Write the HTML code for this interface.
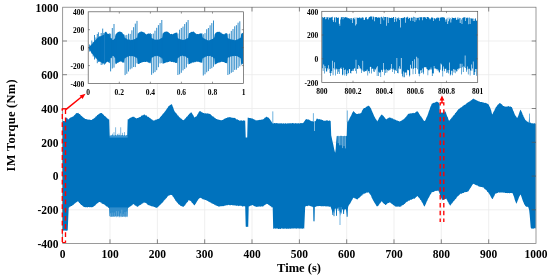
<!DOCTYPE html>
<html><head><meta charset="utf-8"><title>IM Torque</title>
<style>html,body{margin:0;padding:0;background:#fff}svg{display:block}</style></head>
<body>
<svg width="550" height="278" viewBox="0 0 550 278">
<rect width="550" height="278" fill="#fff"/>
<path d="M110.0 7.2V243.6M157.4 7.2V243.6M204.7 7.2V243.6M252.0 7.2V243.6M299.4 7.2V243.6M346.7 7.2V243.6M394.0 7.2V243.6M441.3 7.2V243.6M488.7 7.2V243.6M62.7 209.8H536.0M62.7 176.1H536.0M62.7 142.3H536.0M62.7 108.5H536.0M62.7 74.7H536.0M62.7 41.0H536.0" stroke="#ebebeb" stroke-width="0.8" fill="none"/>
<polygon points="62.7,121.0 63.2,121.1 63.7,120.9 64.2,121.0 64.7,121.3 65.2,121.3 65.7,120.7 66.2,117.8 66.7,117.7 67.2,118.0 67.7,119.3 68.2,119.5 68.7,119.2 69.2,118.4 69.7,118.2 70.2,117.9 70.7,117.3 71.2,117.5 71.7,117.0 72.2,116.9 72.7,116.6 73.2,116.6 73.7,115.9 74.2,115.2 74.7,115.0 75.2,114.6 75.7,113.8 76.2,113.3 76.7,113.1 77.2,113.2 77.7,112.9 78.2,112.7 78.7,113.4 79.2,113.9 79.7,114.1 80.2,114.4 80.7,115.3 81.2,115.7 81.7,116.1 82.2,116.5 82.7,117.1 83.2,117.6 83.7,117.8 84.2,118.1 84.7,118.6 85.2,119.1 85.7,119.1 86.2,119.0 86.7,119.2 87.2,119.5 87.7,119.5 88.2,119.6 88.7,119.8 89.2,119.5 89.7,119.8 90.2,119.8 90.7,120.0 91.2,120.1 91.7,119.9 92.2,119.5 92.7,119.0 93.2,118.9 93.7,118.4 94.2,118.2 94.7,117.8 95.2,117.4 95.7,116.6 96.2,116.2 96.7,116.2 97.2,115.1 97.7,115.0 98.2,114.6 98.7,114.3 99.2,113.8 99.7,113.6 100.2,113.2 100.7,113.1 101.2,113.0 101.7,113.1 102.2,113.5 102.7,113.9 103.2,114.6 103.7,114.8 104.2,115.7 104.7,116.0 105.2,116.3 105.7,116.8 106.2,117.0 106.7,117.9 107.2,118.3 107.7,118.7 108.2,118.8 108.7,119.4 109.2,119.6 109.7,135.7 110.2,135.9 110.7,135.7 111.2,135.5 111.7,135.6 112.2,135.4 112.7,135.4 113.2,135.8 113.7,135.8 114.2,135.9 114.7,135.8 115.2,135.6 115.7,135.3 116.2,135.6 116.7,135.9 117.2,135.8 117.7,135.6 118.2,135.6 118.7,135.4 119.2,135.4 119.7,135.3 120.2,135.9 120.7,135.7 121.2,135.4 121.7,135.5 122.2,135.3 122.7,135.4 123.2,135.8 123.7,135.7 124.2,135.6 124.7,135.4 125.2,135.7 125.7,135.9 126.2,135.6 126.7,135.3 127.2,135.3 127.7,119.2 128.2,119.5 128.7,118.9 129.2,118.8 129.7,118.0 130.2,117.7 130.7,117.8 131.2,117.8 131.7,117.1 132.2,116.7 132.7,117.1 133.2,116.5 133.7,117.0 134.2,116.8 134.7,117.4 135.2,117.8 135.7,118.0 136.2,118.1 136.7,118.7 137.2,118.1 137.7,118.0 138.2,117.8 138.7,117.8 139.2,117.0 139.7,117.2 140.2,116.9 140.7,116.7 141.2,116.0 141.7,115.6 142.2,115.3 142.7,115.4 143.2,115.3 143.7,114.8 144.2,114.4 144.7,114.6 145.2,115.2 145.7,115.5 146.2,115.3 146.7,115.6 147.2,116.4 147.7,116.7 148.2,116.7 148.7,117.0 149.2,117.4 149.7,117.9 150.2,117.9 150.7,118.8 151.2,118.9 151.7,119.4 152.2,119.4 152.7,120.2 153.2,120.4 153.7,120.4 154.2,120.6 154.7,120.3 155.2,120.3 155.7,119.6 156.2,119.4 156.7,119.7 157.2,119.2 157.7,119.1 158.2,118.7 158.7,119.1 159.2,118.4 159.7,118.0 160.2,116.9 160.7,116.7 161.2,115.8 161.7,115.8 162.2,114.9 162.7,114.1 163.2,113.5 163.7,113.3 164.2,112.4 164.7,111.8 165.2,111.2 165.7,110.5 166.2,109.8 166.7,109.1 167.2,108.2 167.7,107.7 168.2,106.7 168.7,106.1 169.2,106.0 169.7,105.3 170.2,105.0 170.7,104.7 171.2,104.6 171.7,104.0 172.2,104.9 172.7,106.4 173.2,107.5 173.7,109.2 174.2,110.6 174.7,111.5 175.2,112.3 175.7,112.7 176.2,113.1 176.7,114.1 177.2,114.6 177.7,115.4 178.2,115.6 178.7,116.3 179.2,117.2 179.7,117.3 180.2,117.8 180.7,118.6 181.2,118.6 181.7,118.9 182.2,119.6 182.7,119.9 183.2,120.3 183.7,120.1 184.2,119.8 184.7,118.9 185.2,118.5 185.7,118.3 186.2,117.2 186.7,116.8 187.2,116.6 187.7,116.0 188.2,115.0 188.7,114.7 189.2,114.1 189.7,113.5 190.2,113.3 190.7,112.6 191.2,112.7 191.7,112.3 192.2,113.7 192.7,114.4 193.2,115.1 193.7,116.3 194.2,117.1 194.7,117.7 195.2,116.8 195.7,116.7 196.2,116.4 196.7,115.9 197.2,114.9 197.7,114.0 198.2,113.5 198.7,112.2 199.2,111.4 199.7,111.3 200.2,110.9 200.7,111.5 201.2,111.7 201.7,112.2 202.2,112.4 202.7,112.5 203.2,113.1 203.7,113.1 204.2,113.3 204.7,113.5 205.2,113.1 205.7,113.6 206.2,113.6 206.7,113.4 207.2,113.5 207.7,113.3 208.2,113.8 208.7,113.5 209.2,113.9 209.7,113.7 210.2,113.9 210.7,114.6 211.2,115.0 211.7,115.5 212.2,116.0 212.7,116.5 213.2,116.3 213.7,117.0 214.2,117.4 214.7,117.8 215.2,118.1 215.7,118.4 216.2,118.9 216.7,118.9 217.2,119.2 217.7,119.6 218.2,119.4 218.7,119.8 219.2,119.7 219.7,119.9 220.2,119.9 220.7,120.2 221.2,120.2 221.7,120.2 222.2,119.9 222.7,119.9 223.2,119.4 223.7,119.4 224.2,118.8 224.7,118.8 225.2,118.5 225.7,118.3 226.2,117.9 226.7,118.1 227.2,117.8 227.7,117.2 228.2,117.2 228.7,117.6 229.2,117.0 229.7,117.2 230.2,117.6 230.7,117.1 231.2,117.7 231.7,117.6 232.2,117.8 232.7,117.8 233.2,118.1 233.7,117.8 234.2,118.1 234.7,117.8 235.2,118.3 235.7,118.4 236.2,119.2 236.7,119.5 237.2,119.3 237.7,119.6 238.2,119.9 238.7,120.1 239.2,120.7 239.7,120.5 240.2,120.5 240.7,120.5 241.2,120.2 241.7,120.4 242.2,120.8 242.7,120.7 243.2,120.6 243.7,120.3 244.2,120.8 244.7,120.4 245.2,120.6 245.7,137.4 246.2,137.5 246.7,137.5 247.2,137.5 247.7,117.4 248.2,117.9 248.7,117.6 249.2,118.0 249.7,118.0 250.2,118.2 250.7,118.0 251.2,118.2 251.7,118.6 252.2,118.5 252.7,118.5 253.2,119.3 253.7,118.9 254.2,119.7 254.7,119.6 255.2,119.8 255.7,120.5 256.2,120.2 256.7,120.4 257.2,120.1 257.7,120.5 258.2,120.3 258.7,120.1 259.2,119.8 259.7,119.9 260.2,120.0 260.7,119.7 261.2,119.8 261.7,119.5 262.2,119.6 262.7,119.5 263.2,119.3 263.7,118.9 264.2,118.5 264.7,117.8 265.2,117.4 265.7,117.4 266.2,116.8 266.7,116.7 267.2,117.1 267.7,117.5 268.2,117.6 268.7,117.8 269.2,118.4 269.7,119.0 270.2,119.7 270.7,120.4 271.2,121.3 271.7,121.9 272.2,122.9 272.7,123.0 273.2,123.3 273.7,123.5 274.2,123.0 274.7,122.9 275.2,123.4 275.7,123.1 276.2,123.2 276.7,122.9 277.2,123.0 277.7,123.4 278.2,123.3 278.7,123.5 279.2,123.6 279.7,123.2 280.2,123.4 280.7,123.3 281.2,123.3 281.7,123.2 282.2,123.7 282.7,123.4 283.2,123.1 283.7,123.5 284.2,123.7 284.7,123.6 285.2,123.4 285.7,123.0 286.2,123.6 286.7,123.7 287.2,123.6 287.7,123.3 288.2,123.3 288.7,123.6 289.2,123.1 289.7,123.6 290.2,123.4 290.7,123.1 291.2,123.6 291.7,123.3 292.2,123.1 292.7,123.1 293.2,123.6 293.7,123.1 294.2,123.5 294.7,123.5 295.2,123.0 295.7,123.3 296.2,123.5 296.7,123.3 297.2,123.5 297.7,123.2 298.2,123.4 298.7,123.1 299.2,123.5 299.7,123.5 300.2,123.3 300.7,123.1 301.2,123.1 301.7,123.3 302.2,123.0 302.7,123.2 303.2,123.1 303.7,122.2 304.2,121.4 304.7,121.0 305.2,120.1 305.7,119.6 306.2,119.2 306.7,119.1 307.2,119.4 307.7,119.6 308.2,119.6 308.7,119.4 309.2,119.7 309.7,120.3 310.2,120.4 310.7,120.8 311.2,121.2 311.7,120.9 312.2,121.5 312.7,121.1 313.2,121.4 313.7,121.6 314.2,121.2 314.7,121.0 315.2,121.2 315.7,120.9 316.2,119.8 316.7,118.5 317.2,119.0 317.7,118.5 318.2,119.1 318.7,119.4 319.2,119.0 319.7,119.3 320.2,119.6 320.7,119.4 321.2,119.6 321.7,119.7 322.2,119.9 322.7,120.1 323.2,120.4 323.7,120.7 324.2,120.7 324.7,120.7 325.2,120.7 325.7,120.8 326.2,120.3 326.7,120.6 327.2,120.3 327.7,120.6 328.2,120.9 328.7,120.7 329.2,120.5 329.7,120.6 330.2,120.8 330.7,121.2 331.2,135.3 331.7,137.5 332.2,140.0 332.7,142.2 333.2,144.2 333.7,146.7 334.2,149.2 334.7,151.2 335.2,152.8 335.7,149.0 336.2,141.6 336.7,136.3 337.2,135.8 337.7,136.3 338.2,135.7 338.7,136.3 339.2,135.9 339.7,136.2 340.2,135.7 340.7,136.0 341.2,135.8 341.7,136.1 342.2,136.1 342.7,136.0 343.2,136.1 343.7,136.3 344.2,135.7 344.7,136.0 345.2,136.1 345.7,136.1 346.2,135.8 346.7,136.3 347.2,121.2 347.7,121.6 348.2,121.4 348.7,120.1 349.2,119.5 349.7,117.9 350.2,117.3 350.7,116.2 351.2,115.4 351.7,114.3 352.2,113.1 352.7,112.2 353.2,111.6 353.7,111.0 354.2,112.1 354.7,112.3 355.2,112.9 355.7,113.3 356.2,113.8 356.7,114.1 357.2,113.9 357.7,113.9 358.2,113.6 358.7,113.7 359.2,113.5 359.7,113.8 360.2,113.1 360.7,113.4 361.2,112.9 361.7,111.7 362.2,110.4 362.7,109.7 363.2,108.9 363.7,108.2 364.2,107.9 364.7,108.1 365.2,107.7 365.7,107.4 366.2,107.0 366.7,106.5 367.2,106.6 367.7,106.0 368.2,105.5 368.7,106.1 369.2,106.0 369.7,106.7 370.2,107.4 370.7,107.9 371.2,109.1 371.7,110.5 372.2,111.6 372.7,112.8 373.2,113.8 373.7,115.1 374.2,116.2 374.7,117.0 375.2,118.1 375.7,119.0 376.2,119.5 376.7,120.2 377.2,121.4 377.7,120.6 378.2,119.9 378.7,118.7 379.2,117.8 379.7,117.1 380.2,116.6 380.7,115.4 381.2,115.1 381.7,114.4 382.2,114.7 382.7,115.4 383.2,115.7 383.7,116.3 384.2,117.1 384.7,117.5 385.2,118.2 385.7,119.0 386.2,119.1 386.7,119.5 387.2,118.8 387.7,118.2 388.2,118.2 388.7,117.8 389.2,117.5 389.7,117.4 390.2,117.7 390.7,117.8 391.2,117.8 391.7,118.5 392.2,118.3 392.7,118.6 393.2,118.8 393.7,119.5 394.2,119.0 394.7,119.7 395.2,119.8 395.7,119.7 396.2,120.3 396.7,120.6 397.2,120.7 397.7,120.4 398.2,121.1 398.7,120.9 399.2,121.4 399.7,121.4 400.2,121.0 400.7,121.2 401.2,120.8 401.7,120.4 402.2,120.3 402.7,119.8 403.2,119.2 403.7,119.4 404.2,118.7 404.7,118.2 405.2,117.4 405.7,117.2 406.2,116.7 406.7,115.7 407.2,115.4 407.7,114.5 408.2,113.9 408.7,113.7 409.2,113.6 409.7,113.7 410.2,113.4 410.7,113.2 411.2,113.5 411.7,113.2 412.2,113.2 412.7,113.0 413.2,112.8 413.7,113.2 414.2,113.0 414.7,113.2 415.2,112.3 415.7,112.5 416.2,111.7 416.7,111.5 417.2,111.1 417.7,111.8 418.2,112.3 418.7,112.8 419.2,113.9 419.7,114.4 420.2,115.4 420.7,116.2 421.2,116.6 421.7,117.6 422.2,118.0 422.7,118.9 423.2,119.8 423.7,120.6 424.2,121.0 424.7,121.1 425.2,120.5 425.7,119.4 426.2,118.3 426.7,116.9 427.2,116.2 427.7,114.8 428.2,113.4 428.7,111.8 429.2,110.6 429.7,109.3 430.2,107.6 430.7,106.2 431.2,105.4 431.7,103.8 432.2,103.7 432.7,103.3 433.2,102.8 433.7,103.0 434.2,102.7 434.7,102.8 435.2,102.5 435.7,102.0 436.2,102.1 436.7,101.6 437.2,101.7 437.7,102.0 438.2,102.4 438.7,102.5 439.2,103.5 439.7,104.1 440.2,104.9 440.7,105.1 441.2,106.2 441.7,106.9 442.2,107.3 442.7,107.6 443.2,108.9 443.7,109.3 444.2,109.8 444.7,110.8 445.2,111.6 445.7,112.0 446.2,113.6 446.7,115.0 447.2,116.4 447.7,117.1 448.2,118.8 448.7,120.3 449.2,120.8 449.7,120.3 450.2,119.6 450.7,119.0 451.2,118.4 451.7,117.5 452.2,117.4 452.7,116.6 453.2,115.6 453.7,115.6 454.2,114.9 454.7,114.2 455.2,113.1 455.7,112.9 456.2,112.0 456.7,111.8 457.2,110.8 457.7,110.3 458.2,109.6 458.7,109.0 459.2,108.7 459.7,108.6 460.2,108.0 460.7,107.5 461.2,107.5 461.7,107.0 462.2,106.8 462.7,105.9 463.2,105.5 463.7,105.7 464.2,104.8 464.7,104.9 465.2,104.7 465.7,104.2 466.2,103.8 466.7,103.3 467.2,102.9 467.7,102.4 468.2,102.2 468.7,101.9 469.2,101.4 469.7,101.5 470.2,101.2 470.7,100.4 471.2,100.2 471.7,100.1 472.2,99.5 472.7,99.0 473.2,99.0 473.7,98.6 474.2,99.0 474.7,99.4 475.2,99.4 475.7,99.9 476.2,99.9 476.7,100.4 477.2,100.4 477.7,101.0 478.2,100.9 478.7,101.6 479.2,101.2 479.7,101.7 480.2,101.9 480.7,102.1 481.2,102.0 481.7,102.1 482.2,102.1 482.7,102.6 483.2,102.6 483.7,102.6 484.2,102.7 484.7,103.1 485.2,103.0 485.7,102.8 486.2,102.9 486.7,103.5 487.2,103.6 487.7,104.0 488.2,104.2 488.7,104.5 489.2,106.0 489.7,106.7 490.2,107.8 490.7,109.3 491.2,110.5 491.7,112.7 492.2,114.4 492.7,113.7 493.2,112.6 493.7,111.6 494.2,110.9 494.7,109.5 495.2,108.7 495.7,107.4 496.2,106.8 496.7,106.4 497.2,105.5 497.7,104.7 498.2,104.4 498.7,104.1 499.2,103.6 499.7,103.0 500.2,103.0 500.7,103.8 501.2,103.9 501.7,104.3 502.2,104.8 502.7,105.6 503.2,106.0 503.7,106.0 504.2,106.2 504.7,106.5 505.2,106.8 505.7,106.5 506.2,106.7 506.7,106.6 507.2,106.5 507.7,106.5 508.2,106.2 508.7,106.1 509.2,106.6 509.7,106.8 510.2,106.6 510.7,106.4 511.2,106.9 511.7,107.0 512.2,108.1 512.7,109.3 513.2,110.8 513.7,111.5 514.2,112.9 514.7,114.3 515.2,115.2 515.7,115.9 516.2,116.6 516.7,117.4 517.2,118.0 517.7,116.9 518.2,116.0 518.7,114.4 519.2,112.9 519.7,111.6 520.2,110.2 520.7,109.8 521.2,111.1 521.7,111.9 522.2,113.1 522.7,114.7 523.2,115.3 523.7,117.0 524.2,117.6 524.7,118.8 525.2,119.7 525.7,120.3 526.2,120.4 526.7,121.3 527.2,121.6 527.7,121.8 528.2,122.2 528.7,122.6 529.2,116.6 529.7,119.7 530.2,122.7 530.7,122.7 531.2,123.1 531.7,123.5 532.2,122.9 532.7,123.4 533.2,123.4 533.7,123.5 534.2,123.3 534.7,123.3 535.2,123.4 535.7,123.8 535.7,228.5 535.2,228.2 534.7,228.1 534.2,228.4 533.7,228.7 533.2,228.6 532.7,228.5 532.2,228.7 531.7,228.7 531.2,228.2 530.7,227.4 530.2,221.2 529.7,215.1 529.2,210.4 528.7,208.6 528.2,207.1 527.7,207.0 527.2,206.6 526.7,206.9 526.2,206.5 525.7,206.3 525.2,205.8 524.7,204.8 524.2,204.2 523.7,202.8 523.2,201.8 522.7,200.5 522.2,198.9 521.7,197.4 521.2,196.1 520.7,194.7 520.2,194.7 519.7,195.9 519.2,196.8 518.7,198.0 518.2,199.5 517.7,200.6 517.2,201.9 516.7,203.0 516.2,203.7 515.7,201.9 515.2,200.9 514.7,199.4 514.2,197.5 513.7,196.1 513.2,194.9 512.7,193.0 512.2,193.4 511.7,192.9 511.2,193.1 510.7,193.0 510.2,193.0 509.7,193.3 509.2,193.2 508.7,192.9 508.2,193.1 507.7,193.2 507.2,193.0 506.7,193.0 506.2,193.1 505.7,193.1 505.2,192.9 504.7,192.4 504.2,192.7 503.7,192.8 503.2,192.4 502.7,192.5 502.2,192.4 501.7,192.5 501.2,192.6 500.7,192.4 500.2,192.4 499.7,192.4 499.2,192.8 498.7,192.3 498.2,192.5 497.7,192.9 497.2,193.0 496.7,193.2 496.2,193.4 495.7,193.5 495.2,193.7 494.7,195.1 494.2,196.2 493.7,196.8 493.2,198.0 492.7,198.9 492.2,198.9 491.7,198.2 491.2,197.5 490.7,196.5 490.2,195.5 489.7,194.8 489.2,193.7 488.7,193.2 488.2,192.3 487.7,192.0 487.2,191.7 486.7,190.6 486.2,190.1 485.7,189.5 485.2,189.4 484.7,189.1 484.2,188.5 483.7,187.6 483.2,187.5 482.7,187.2 482.2,187.3 481.7,187.0 481.2,186.9 480.7,186.7 480.2,187.1 479.7,186.4 479.2,186.8 478.7,186.6 478.2,186.1 477.7,185.5 477.2,185.5 476.7,185.4 476.2,184.9 475.7,185.0 475.2,184.7 474.7,184.4 474.2,184.0 473.7,183.9 473.2,183.8 472.7,184.5 472.2,185.1 471.7,186.0 471.2,186.8 470.7,187.8 470.2,188.2 469.7,188.9 469.2,190.0 468.7,190.7 468.2,191.5 467.7,191.5 467.2,191.7 466.7,192.1 466.2,192.1 465.7,192.0 465.2,192.2 464.7,192.1 464.2,192.6 463.7,192.9 463.2,193.1 462.7,192.9 462.2,193.2 461.7,193.7 461.2,193.7 460.7,193.5 460.2,194.1 459.7,194.5 459.2,195.0 458.7,195.5 458.2,196.1 457.7,196.4 457.2,196.6 456.7,197.5 456.2,198.5 455.7,199.0 455.2,199.3 454.7,199.9 454.2,200.8 453.7,201.3 453.2,201.6 452.7,202.6 452.2,203.3 451.7,203.4 451.2,204.2 450.7,205.0 450.2,205.8 449.7,205.1 449.2,204.1 448.7,203.5 448.2,202.1 447.7,201.7 447.2,200.2 446.7,199.5 446.2,198.6 445.7,199.1 445.2,199.0 444.7,199.3 444.2,199.4 443.7,199.8 443.2,200.1 442.7,200.2 442.2,199.6 441.7,198.9 441.2,197.7 440.7,196.5 440.2,195.3 439.7,194.0 439.2,192.4 438.7,191.2 438.2,190.5 437.7,190.5 437.2,190.9 436.7,190.7 436.2,191.1 435.7,190.9 435.2,190.8 434.7,191.5 434.2,191.3 433.7,191.9 433.2,191.9 432.7,192.1 432.2,192.2 431.7,192.3 431.2,193.5 430.7,194.2 430.2,194.7 429.7,195.7 429.2,197.0 428.7,197.7 428.2,198.5 427.7,199.4 427.2,201.0 426.7,201.5 426.2,202.9 425.7,204.2 425.2,205.1 424.7,206.5 424.2,206.3 423.7,205.5 423.2,204.5 422.7,203.3 422.2,202.5 421.7,202.1 421.2,200.6 420.7,200.1 420.2,199.7 419.7,198.6 419.2,198.1 418.7,197.4 418.2,197.1 417.7,196.3 417.2,195.9 416.7,196.7 416.2,197.1 415.7,197.7 415.2,197.7 414.7,198.7 414.2,198.8 413.7,198.6 413.2,198.8 412.7,199.2 412.2,199.1 411.7,199.4 411.2,200.0 410.7,199.7 410.2,199.8 409.7,200.5 409.2,200.8 408.7,200.4 408.2,201.1 407.7,201.2 407.2,201.9 406.7,201.8 406.2,202.2 405.7,202.7 405.2,203.3 404.7,203.9 404.2,204.1 403.7,204.7 403.2,205.0 402.7,205.2 402.2,205.3 401.7,205.6 401.2,206.4 400.7,206.3 400.2,206.9 399.7,206.4 399.2,207.0 398.7,206.4 398.2,206.6 397.7,206.6 397.2,206.7 396.7,206.4 396.2,206.8 395.7,206.6 395.2,206.6 394.7,205.9 394.2,205.6 393.7,205.3 393.2,204.9 392.7,204.5 392.2,203.9 391.7,203.8 391.2,203.5 390.7,202.9 390.2,202.5 389.7,202.4 389.2,202.4 388.7,202.9 388.2,203.1 387.7,203.2 387.2,203.6 386.7,204.2 386.2,204.5 385.7,205.1 385.2,204.9 384.7,204.1 384.2,203.9 383.7,203.4 383.2,202.9 382.7,202.4 382.2,201.7 381.7,201.2 381.2,201.8 380.7,202.5 380.2,203.3 379.7,203.6 379.2,204.5 378.7,204.9 378.2,206.0 377.7,206.1 377.2,206.6 376.7,206.3 376.2,205.4 375.7,204.4 375.2,203.7 374.7,202.9 374.2,202.2 373.7,201.3 373.2,200.5 372.7,199.6 372.2,198.4 371.7,197.8 371.2,196.1 370.7,195.1 370.2,194.5 369.7,193.9 369.2,193.1 368.7,192.4 368.2,192.3 367.7,192.7 367.2,192.5 366.7,192.6 366.2,192.8 365.7,193.0 365.2,193.5 364.7,193.4 364.2,193.8 363.7,193.5 363.2,194.5 362.7,194.3 362.2,195.4 361.7,195.4 361.2,195.8 360.7,196.6 360.2,196.8 359.7,197.5 359.2,197.8 358.7,198.1 358.2,198.6 357.7,199.3 357.2,199.5 356.7,199.1 356.2,199.3 355.7,198.8 355.2,198.3 354.7,198.5 354.2,197.7 353.7,197.7 353.2,198.0 352.7,198.7 352.2,199.9 351.7,200.4 351.2,201.5 350.7,202.4 350.2,203.5 349.7,203.9 349.2,204.7 348.7,205.5 348.2,206.8 347.7,209.5 347.2,217.1 346.7,213.2 346.2,210.4 345.7,209.2 345.2,209.3 344.7,209.3 344.2,210.6 343.7,213.5 343.2,211.8 342.7,209.6 342.2,208.9 341.7,211.5 341.2,212.6 340.7,212.3 340.2,216.0 339.7,212.0 339.2,210.2 338.7,209.0 338.2,207.9 337.7,208.7 337.2,208.5 336.7,213.7 336.2,213.5 335.7,208.7 335.2,208.6 334.7,209.0 334.2,213.4 333.7,212.2 333.2,210.5 332.7,214.2 332.2,211.4 331.7,209.7 331.2,208.5 330.7,207.1 330.2,206.6 329.7,207.0 329.2,206.4 328.7,206.6 328.2,206.4 327.7,206.3 327.2,206.5 326.7,206.5 326.2,206.3 325.7,206.2 325.2,206.6 324.7,206.0 324.2,206.2 323.7,206.5 323.2,206.1 322.7,206.1 322.2,206.4 321.7,206.4 321.2,205.9 320.7,206.1 320.2,206.3 319.7,206.1 319.2,206.0 318.7,206.1 318.2,206.2 317.7,206.2 317.2,205.9 316.7,206.6 316.2,206.2 315.7,206.9 315.2,206.8 314.7,207.0 314.2,220.7 313.7,221.0 313.2,206.9 312.7,207.2 312.2,206.5 311.7,206.6 311.2,206.5 310.7,206.1 310.2,206.3 309.7,206.0 309.2,205.5 308.7,205.8 308.2,205.6 307.7,206.0 307.2,206.2 306.7,206.0 306.2,206.1 305.7,206.4 305.2,206.6 304.7,217.7 304.2,228.7 303.7,228.5 303.2,228.3 302.7,228.6 302.2,228.9 301.7,228.4 301.2,228.6 300.7,228.8 300.2,228.3 299.7,228.9 299.2,228.3 298.7,228.4 298.2,228.5 297.7,228.3 297.2,228.5 296.7,228.9 296.2,228.3 295.7,228.3 295.2,228.8 294.7,228.3 294.2,228.6 293.7,228.6 293.2,228.4 292.7,228.4 292.2,228.5 291.7,228.5 291.2,228.6 290.7,228.9 290.2,228.4 289.7,228.3 289.2,228.9 288.7,228.5 288.2,228.9 287.7,228.9 287.2,228.3 286.7,228.8 286.2,228.9 285.7,228.4 285.2,228.4 284.7,228.7 284.2,228.6 283.7,228.9 283.2,228.5 282.7,228.4 282.2,228.8 281.7,228.5 281.2,228.3 280.7,228.9 280.2,228.9 279.7,228.7 279.2,228.7 278.7,228.9 278.2,228.9 277.7,228.4 277.2,228.6 276.7,228.3 276.2,228.8 275.7,228.5 275.2,228.7 274.7,228.3 274.2,228.5 273.7,228.8 273.2,228.8 272.7,207.6 272.2,207.3 271.7,207.5 271.2,206.5 270.7,206.2 270.2,206.1 269.7,205.7 269.2,204.9 268.7,204.9 268.2,204.5 267.7,204.0 267.2,203.9 266.7,203.7 266.2,204.2 265.7,204.4 265.2,204.7 264.7,205.0 264.2,205.4 263.7,205.8 263.2,206.4 262.7,206.4 262.2,206.6 261.7,206.3 261.2,206.5 260.7,206.8 260.2,206.4 259.7,206.4 259.2,206.4 258.7,206.5 258.2,206.8 257.7,206.5 257.2,207.0 256.7,206.7 256.2,207.1 255.7,206.3 255.2,206.7 254.7,206.2 254.2,206.0 253.7,205.5 253.2,205.7 252.7,205.1 252.2,205.0 251.7,205.2 251.2,205.8 250.7,205.6 250.2,206.0 249.7,206.2 249.2,206.2 248.7,206.5 248.2,226.9 247.7,226.8 247.2,226.8 246.7,226.7 246.2,226.9 245.7,226.6 245.2,206.5 244.7,206.0 244.2,206.4 243.7,206.1 243.2,206.5 242.7,206.5 242.2,206.4 241.7,206.1 241.2,205.7 240.7,205.7 240.2,205.7 239.7,205.7 239.2,205.7 238.7,206.2 238.2,205.7 237.7,205.5 237.2,205.8 236.7,205.9 236.2,205.4 235.7,205.4 235.2,205.5 234.7,205.7 234.2,205.1 233.7,205.3 233.2,205.5 232.7,205.2 232.2,205.3 231.7,205.1 231.2,205.0 230.7,204.9 230.2,205.4 229.7,205.2 229.2,205.1 228.7,205.1 228.2,204.8 227.7,204.9 227.2,205.5 226.7,205.0 226.2,205.6 225.7,205.5 225.2,205.6 224.7,205.8 224.2,205.8 223.7,205.9 223.2,206.2 222.7,206.3 222.2,206.1 221.7,206.1 221.2,206.6 220.7,206.1 220.2,206.6 219.7,206.5 219.2,206.4 218.7,206.5 218.2,206.5 217.7,205.9 217.2,206.1 216.7,205.6 216.2,205.8 215.7,205.6 215.2,204.7 214.7,204.8 214.2,204.7 213.7,203.9 213.2,203.9 212.7,203.4 212.2,203.7 211.7,203.4 211.2,202.7 210.7,202.8 210.2,202.3 209.7,202.2 209.2,201.8 208.7,201.9 208.2,201.0 207.7,201.0 207.2,200.8 206.7,200.5 206.2,200.3 205.7,200.1 205.2,200.1 204.7,199.8 204.2,199.4 203.7,199.3 203.2,199.5 202.7,199.2 202.2,198.7 201.7,198.4 201.2,198.1 200.7,197.8 200.2,198.1 199.7,198.2 199.2,198.2 198.7,199.1 198.2,199.6 197.7,200.5 197.2,200.9 196.7,202.1 196.2,202.8 195.7,203.7 195.2,204.3 194.7,205.2 194.2,205.2 193.7,204.5 193.2,204.3 192.7,203.3 192.2,202.9 191.7,202.5 191.2,201.6 190.7,200.9 190.2,200.7 189.7,200.7 189.2,200.2 188.7,200.0 188.2,201.0 187.7,202.0 187.2,202.3 186.7,202.8 186.2,203.6 185.7,204.1 185.2,205.2 184.7,205.4 184.2,205.9 183.7,206.6 183.2,206.9 182.7,206.8 182.2,206.2 181.7,206.2 181.2,205.9 180.7,205.7 180.2,205.8 179.7,204.8 179.2,204.8 178.7,204.2 178.2,203.9 177.7,202.7 177.2,202.7 176.7,201.9 176.2,201.3 175.7,200.9 175.2,199.9 174.7,199.0 174.2,198.6 173.7,197.4 173.2,196.7 172.7,196.6 172.2,195.3 171.7,195.1 171.2,195.1 170.7,195.1 170.2,194.7 169.7,195.5 169.2,195.3 168.7,195.5 168.2,196.1 167.7,196.5 167.2,196.8 166.7,197.9 166.2,198.3 165.7,198.7 165.2,199.4 164.7,199.8 164.2,200.6 163.7,200.8 163.2,202.0 162.7,202.3 162.2,202.9 161.7,203.4 161.2,203.5 160.7,204.3 160.2,204.9 159.7,205.1 159.2,206.1 158.7,206.2 158.2,206.8 157.7,207.1 157.2,207.7 156.7,207.9 156.2,207.5 155.7,207.4 155.2,207.4 154.7,207.0 154.2,207.1 153.7,206.6 153.2,206.8 152.7,206.5 152.2,206.3 151.7,206.3 151.2,206.2 150.7,205.8 150.2,205.7 149.7,205.7 149.2,205.1 148.7,205.3 148.2,204.9 147.7,204.5 147.2,204.5 146.7,203.6 146.2,203.3 145.7,203.0 145.2,202.7 144.7,202.8 144.2,202.5 143.7,202.5 143.2,203.2 142.7,203.3 142.2,203.8 141.7,203.8 141.2,204.4 140.7,204.8 140.2,204.9 139.7,205.0 139.2,205.8 138.7,205.8 138.2,206.5 137.7,206.7 137.2,206.7 136.7,206.4 136.2,205.7 135.7,205.8 135.2,205.6 134.7,205.2 134.2,204.5 133.7,204.2 133.2,203.9 132.7,204.5 132.2,205.2 131.7,205.4 131.2,205.8 130.7,206.2 130.2,206.6 129.7,206.7 129.2,207.3 128.7,207.6 128.2,208.0 127.7,208.7 127.2,216.3 126.7,216.3 126.2,216.0 125.7,215.9 125.2,216.3 124.7,216.2 124.2,216.1 123.7,216.2 123.2,216.3 122.7,216.3 122.2,216.4 121.7,216.1 121.2,216.3 120.7,216.0 120.2,216.0 119.7,216.5 119.2,216.0 118.7,216.0 118.2,215.9 117.7,216.1 117.2,216.4 116.7,216.1 116.2,216.1 115.7,216.2 115.2,216.3 114.7,216.3 114.2,216.5 113.7,216.1 113.2,216.0 112.7,216.5 112.2,215.9 111.7,216.3 111.2,216.5 110.7,216.3 110.2,216.3 109.7,216.1 109.2,208.2 108.7,208.0 108.2,207.5 107.7,206.9 107.2,206.4 106.7,206.4 106.2,206.2 105.7,205.6 105.2,205.5 104.7,204.7 104.2,204.6 103.7,204.1 103.2,204.2 102.7,203.7 102.2,203.7 101.7,203.4 101.2,202.6 100.7,202.5 100.2,202.2 99.7,202.1 99.2,202.1 98.7,202.2 98.2,202.7 97.7,202.9 97.2,203.5 96.7,203.7 96.2,204.3 95.7,204.8 95.2,205.4 94.7,205.8 94.2,206.0 93.7,206.4 93.2,206.7 92.7,207.2 92.2,206.9 91.7,207.2 91.2,207.2 90.7,207.2 90.2,207.1 89.7,207.2 89.2,207.2 88.7,207.1 88.2,207.0 87.7,207.3 87.2,207.4 86.7,207.2 86.2,207.1 85.7,207.1 85.2,207.4 84.7,207.1 84.2,207.0 83.7,206.7 83.2,206.5 82.7,206.0 82.2,205.4 81.7,204.9 81.2,204.9 80.7,204.3 80.2,204.0 79.7,203.1 79.2,203.0 78.7,201.9 78.2,201.5 77.7,201.5 77.2,201.6 76.7,202.3 76.2,202.2 75.7,202.8 75.2,203.3 74.7,203.4 74.2,204.1 73.7,204.8 73.2,204.8 72.7,205.1 72.2,205.8 71.7,206.0 71.2,206.1 70.7,206.5 70.2,206.6 69.7,206.7 69.2,207.4 68.7,207.7 68.2,219.1 67.7,230.4 67.2,230.6 66.7,230.8 66.2,230.8 65.7,230.4 65.2,230.7 64.7,230.5 64.2,230.5 63.7,230.4 63.2,230.8 62.7,230.8" fill="#0072BD"/>
<rect x="109.6" y="135.6" width="18" height="2" fill="#3a96d4"/>
<rect x="109.6" y="207.4" width="18" height="8.8" fill="#2f8ccb"/>
<path d="M110.2 216.2V216.5M111.1 216.2V216.9M112.0 216.2V216.6M112.9 216.2V216.9M113.8 216.2V217.0M114.7 216.2V216.3M115.6 216.2V216.2M116.5 216.2V217.2M117.4 216.2V216.5M118.3 216.2V216.5M119.2 216.2V217.4M120.1 216.2V216.8M121.0 216.2V217.2M121.9 216.2V216.8M122.8 216.2V217.0M123.7 216.2V216.4M124.6 216.2V217.0M125.5 216.2V217.2M126.4 216.2V216.8M127.3 216.2V217.1M115.6 127.3V136M120.7 127.3V136M112.5 133.7V136M114.0 132.2V136M117.5 133.9V136M119.0 133.5V136M122.5 132.8V136M124.5 132.1V136" stroke="#0072BD" stroke-width="0.6" fill="none" opacity="0.8"/>
<path d="M110.5 213.3V216.4M112.2 212.6V216.4M114.3 212.6V216.4M116.4 211.0V216.4M118.4 211.2V216.4M120.5 213.4V216.4M121.8 209.7V216.4M123.2 213.8V216.4M124.9 212.1V216.4M126.4 211.5V216.4" stroke="#fff" stroke-width="0.4" fill="none" opacity="0.55"/>
<path d="M272.8 111.4V124M313.4 113.2V122M347.3 110.5V122M529.5 113.6V123" stroke="#4a9fd8" stroke-width="0.8" fill="none"/>
<path d="M332.8 207V215M334 207V216.2M336.5 207V215.8M343.6 207V214M347.1 207V216.8M314 207V221.4" stroke="#0072BD" stroke-width="0.9" fill="none"/>
<path d="M340 207V225M341.5 207V213.5M338.3 207V211" stroke="#3a96d4" stroke-width="0.7" fill="none"/>
<path d="M314.6 121V131" stroke="#fff" stroke-width="0.7" opacity="0.8"/>
<path d="M338.2 136V143.2M339.6 136V145.3M341.0 136V145.3M342.6 136V148.1M344.0 136V146.1M345.4 136V148.4" stroke="#fff" stroke-width="0.55" fill="none" opacity="0.8"/>
<rect x="62.7" y="7.2" width="473.3" height="236.4" fill="none" stroke="#707070" stroke-width="0.7"/>
<path d="M110.0 243.6v-4.3M110.0 7.2v4.3M157.4 243.6v-4.3M157.4 7.2v4.3M204.7 243.6v-4.3M204.7 7.2v4.3M252.0 243.6v-4.3M252.0 7.2v4.3M299.4 243.6v-4.3M299.4 7.2v4.3M346.7 243.6v-4.3M346.7 7.2v4.3M394.0 243.6v-4.3M394.0 7.2v4.3M441.3 243.6v-4.3M441.3 7.2v4.3M488.7 243.6v-4.3M488.7 7.2v4.3M62.7 209.8h4.3M536.0 209.8h-4.3M62.7 176.1h4.3M536.0 176.1h-4.3M62.7 142.3h4.3M536.0 142.3h-4.3M62.7 108.5h4.3M536.0 108.5h-4.3M62.7 74.7h4.3M536.0 74.7h-4.3M62.7 41.0h4.3M536.0 41.0h-4.3" stroke="#555" stroke-width="0.7" fill="none"/>
<rect x="88.2" y="11.8" width="155.4" height="71.7" fill="#fff"/>
<polygon points="104.2,33.9 104.7,32.5 105.2,32.1 105.7,31.7 106.2,31.8 106.7,32.6 107.2,33.3 107.7,33.9 108.2,33.7 108.7,34.0 109.2,33.4 109.7,33.1 110.2,37.7 110.7,37.9 111.2,38.4 111.7,37.8 112.2,40.0 112.7,39.9 113.2,40.1 113.7,39.5 114.2,38.8 114.7,38.8 115.2,37.8 115.7,34.1 116.2,33.9 116.7,33.1 117.2,32.9 117.7,32.0 118.2,31.8 118.7,32.1 119.2,31.9 119.7,31.2 120.2,31.4 120.7,32.1 121.2,32.2 121.7,32.0 122.2,32.5 122.7,33.6 123.2,34.0 123.7,34.5 124.2,34.2 124.7,37.5 125.2,37.7 125.7,38.6 126.2,38.2 126.7,38.8 127.2,39.2 127.7,39.4 128.2,39.3 128.7,39.9 129.2,39.5 129.7,39.5 130.2,39.9 130.7,40.3 131.2,40.1 131.7,39.7 132.2,39.7 132.7,39.8 133.2,39.8 133.7,39.4 134.2,39.1 134.7,39.2 135.2,38.9 135.7,38.2 136.2,38.3 136.7,37.6 137.2,37.7 137.7,33.6 138.2,33.6 138.7,32.7 139.2,32.5 139.7,32.0 140.2,32.2 140.7,31.6 141.2,31.6 141.7,31.6 142.2,32.0 142.7,31.8 143.2,32.1 143.7,32.4 144.2,32.3 144.7,33.0 145.2,33.5 145.7,33.9 146.2,34.2 146.7,34.4 147.2,34.1 147.7,33.8 148.2,33.6 148.7,33.5 149.2,33.6 149.7,33.7 150.2,33.3 150.7,33.0 151.2,37.5 151.7,38.2 152.2,38.1 152.7,38.7 153.2,38.8 153.7,39.0 154.2,39.6 154.7,39.5 155.2,39.5 155.7,39.8 156.2,39.7 156.7,39.7 157.2,39.6 157.7,39.6 158.2,40.0 158.7,39.4 159.2,39.4 159.7,39.1 160.2,39.0 160.7,38.2 161.2,37.9 161.7,38.2 162.2,37.4 162.7,33.5 163.2,33.2 163.7,32.6 164.2,32.2 164.7,31.8 165.2,32.1 165.7,31.4 166.2,31.4 166.7,31.5 167.2,31.9 167.7,31.6 168.2,31.9 168.7,32.5 169.2,33.2 169.7,33.0 170.2,34.2 170.7,34.0 171.2,34.0 171.7,33.8 172.2,34.2 172.7,34.2 173.2,34.1 173.7,33.5 174.2,33.6 174.7,33.1 175.2,33.0 175.7,32.7 176.2,32.6 176.7,32.8 177.2,32.6 177.7,37.5 178.2,38.2 178.7,38.7 179.2,38.9 179.7,38.9 180.2,39.1 180.7,39.6 181.2,39.4 181.7,39.8 182.2,39.6 182.7,39.9 183.2,39.9 183.7,39.5 184.2,40.0 184.7,39.7 185.2,39.2 185.7,39.2 186.2,38.8 186.7,38.7 187.2,38.4 187.7,37.9 188.2,37.8 188.7,34.1 189.2,33.0 189.7,32.9 190.2,32.7 190.7,32.2 191.2,31.8 191.7,32.0 192.2,31.8 192.7,31.9 193.2,31.4 193.7,31.5 194.2,32.4 194.7,32.3 195.2,33.1 195.7,33.5 196.2,33.7 196.7,34.3 197.2,34.0 197.7,34.0 198.2,34.2 198.7,33.9 199.2,34.0 199.7,33.5 200.2,33.2 200.7,33.5 201.2,33.5 201.7,33.4 202.2,33.1 202.7,37.2 203.2,38.0 203.7,38.3 204.2,38.7 204.7,38.5 205.2,39.1 205.7,39.4 206.2,39.3 206.7,39.7 207.2,40.1 207.7,40.2 208.2,40.4 208.7,40.4 209.2,40.2 209.7,40.2 210.2,39.5 210.7,40.0 211.2,39.7 211.7,39.1 212.2,39.0 212.7,38.9 213.2,38.4 213.7,38.0 214.2,37.4 214.7,34.3 215.2,33.5 215.7,32.8 216.2,32.4 216.7,32.2 217.2,31.7 217.7,32.0 218.2,31.7 218.7,31.9 219.2,31.4 219.7,32.1 220.2,32.4 220.7,32.6 221.2,32.4 221.7,33.4 222.2,33.4 222.7,34.0 223.2,34.1 223.7,34.3 224.2,34.4 224.7,33.7 225.2,33.5 225.7,33.3 226.2,33.3 226.7,33.2 227.2,33.3 227.7,37.7 228.2,38.2 228.7,38.4 229.2,38.9 229.7,39.0 230.2,38.7 230.7,39.6 231.2,39.3 231.7,39.7 232.2,39.4 232.7,39.7 233.2,39.9 233.7,39.6 234.2,40.3 234.7,40.3 235.2,39.9 235.7,40.2 236.2,40.0 236.7,39.4 237.2,39.2 237.7,39.5 238.2,39.3 238.7,38.5 239.2,38.5 239.7,38.2 240.2,37.7 240.7,37.7 241.2,33.7 241.7,33.6 242.2,33.1 242.7,33.2 243.2,32.1 243.2,63.8 242.7,63.8 242.2,64.3 241.7,64.8 241.2,64.6 240.7,58.7 240.2,58.0 239.7,57.5 239.2,57.6 238.7,57.1 238.2,57.1 237.7,56.4 237.2,56.2 236.7,56.1 236.2,56.1 235.7,56.0 235.2,56.1 234.7,55.8 234.2,55.9 233.7,56.2 233.2,55.9 232.7,56.2 232.2,55.9 231.7,56.5 231.2,56.2 230.7,56.4 230.2,56.7 229.7,57.3 229.2,57.7 228.7,57.3 228.2,57.6 227.7,58.1 227.2,63.5 226.7,63.2 226.2,62.9 225.7,63.1 225.2,62.9 224.7,62.3 224.2,62.4 223.7,61.9 223.2,62.1 222.7,62.1 222.2,61.7 221.7,61.9 221.2,61.5 220.7,62.2 220.2,62.3 219.7,62.3 219.2,62.8 218.7,62.8 218.2,62.6 217.7,63.0 217.2,63.3 216.7,63.6 216.2,63.9 215.7,64.3 215.2,64.2 214.7,64.8 214.2,58.2 213.7,58.3 213.2,57.9 212.7,57.0 212.2,56.7 211.7,57.2 211.2,56.6 210.7,56.1 210.2,55.8 209.7,56.0 209.2,56.3 208.7,56.0 208.2,56.0 207.7,56.1 207.2,56.1 206.7,56.5 206.2,56.7 205.7,56.5 205.2,57.2 204.7,57.6 204.2,57.2 203.7,57.7 203.2,58.3 202.7,58.4 202.2,62.9 201.7,62.7 201.2,62.4 200.7,62.5 200.2,62.6 199.7,62.1 199.2,62.3 198.7,61.9 198.2,61.5 197.7,62.0 197.2,61.5 196.7,62.0 196.2,61.3 195.7,62.1 195.2,62.2 194.7,61.8 194.2,62.6 193.7,62.6 193.2,62.6 192.7,62.6 192.2,62.6 191.7,62.8 191.2,63.5 190.7,63.2 190.2,63.4 189.7,63.9 189.2,64.1 188.7,64.7 188.2,58.2 187.7,57.8 187.2,58.1 186.7,57.6 186.2,57.0 185.7,56.5 185.2,56.4 184.7,56.1 184.2,55.9 183.7,56.3 183.2,56.3 182.7,55.8 182.2,55.6 181.7,56.0 181.2,56.1 180.7,56.1 180.2,56.6 179.7,56.7 179.2,57.1 178.7,57.4 178.2,58.2 177.7,58.3 177.2,63.4 176.7,62.8 176.2,62.9 175.7,63.0 175.2,62.7 174.7,62.5 174.2,62.1 173.7,62.5 173.2,62.0 172.7,61.9 172.2,61.8 171.7,61.9 171.2,61.9 170.7,61.6 170.2,61.6 169.7,61.4 169.2,61.6 168.7,61.9 168.2,62.1 167.7,62.4 167.2,61.9 166.7,62.3 166.2,62.4 165.7,62.5 165.2,62.9 164.7,63.2 164.2,63.0 163.7,63.7 163.2,63.3 162.7,63.9 162.2,58.4 161.7,58.4 161.2,57.5 160.7,57.7 160.2,57.0 159.7,56.5 159.2,57.0 158.7,56.2 158.2,56.0 157.7,56.2 157.2,55.7 156.7,55.8 156.2,56.2 155.7,56.1 155.2,56.5 154.7,56.0 154.2,56.4 153.7,57.1 153.2,56.7 152.7,57.3 152.2,57.7 151.7,57.6 151.2,58.7 150.7,63.0 150.2,63.2 149.7,63.2 149.2,62.4 148.7,62.4 148.2,62.7 147.7,62.2 147.2,61.8 146.7,61.6 146.2,62.0 145.7,62.1 145.2,61.9 144.7,61.7 144.2,62.1 143.7,62.0 143.2,62.0 142.7,62.4 142.2,62.1 141.7,62.3 141.2,63.1 140.7,62.9 140.2,63.0 139.7,63.8 139.2,63.4 138.7,64.1 138.2,64.1 137.7,64.1 137.2,58.4 136.7,58.0 136.2,57.6 135.7,57.2 135.2,57.5 134.7,56.8 134.2,56.8 133.7,56.3 133.2,56.1 132.7,56.2 132.2,56.3 131.7,56.2 131.2,56.1 130.7,56.2 130.2,56.3 129.7,55.9 129.2,56.1 128.7,56.6 128.2,56.7 127.7,56.6 127.2,57.3 126.7,57.5 126.2,57.1 125.7,58.1 125.2,58.2 124.7,58.5 124.2,62.9 123.7,62.6 123.2,62.4 122.7,62.4 122.2,62.5 121.7,61.7 121.2,61.6 120.7,61.6 120.2,61.5 119.7,61.8 119.2,62.1 118.7,62.4 118.2,62.4 117.7,62.8 117.2,63.0 116.7,63.8 116.2,63.8 115.7,64.5 115.2,58.2 114.7,57.7 114.2,57.0 113.7,56.0 113.2,56.3 112.7,55.7 112.2,56.2 111.7,58.0 111.2,58.3 110.7,57.9 110.2,58.1 109.7,63.3 109.2,62.9 108.7,62.5 108.2,61.9 107.7,61.8 107.2,61.7 106.7,62.3 106.2,62.5 105.7,63.3 105.2,64.0 104.7,64.5 104.2,64.9" fill="#0072BD"/>
<path d="M110.6 33.7V71.4M112.3 28.0V68.5M114.0 24.0V67.6M115.7 35.5V63.4M125.1 35.3V75.1M126.8 34.9V73.8M128.5 33.7V71.5M130.2 33.9V69.3M131.9 30.3V68.4M133.6 27.2V67.0M135.3 23.6V67.1M137.0 20.9V63.3M151.6 34.0V74.8M153.3 33.6V73.2M155.0 30.7V72.1M156.7 27.8V70.2M158.4 25.1V67.2M160.1 23.0V63.4M161.8 20.0V63.1M177.9 33.5V75.0M179.6 29.7V74.3M181.3 28.0V72.8M183.0 26.6V70.4M184.7 24.0V69.0M186.4 22.2V67.5M188.1 20.0V63.9M203.3 34.2V75.5M205.0 33.1V74.3M206.7 29.2V72.3M208.4 28.0V71.1M210.1 25.3V69.0M211.8 23.1V68.2M213.5 20.5V66.7M227.9 34.1V75.0M229.6 33.6V74.2M231.3 30.9V72.8M233.0 29.0V72.0M234.7 26.3V69.9M236.4 25.2V69.7M238.1 22.7V67.9M239.8 21.3V66.4" stroke="#0072BD" stroke-width="1.0" fill="none" opacity="0.8"/>
<polygon points="88.4,47.8 90,46 92,44 94,41.5 96,39.5 98,37.5 100,36.5 102,35.5 104.4,34.5 104.4,63.8 102,63 100,61.5 98,60.5 96,58 94,56 92,53.5 90,50.5" fill="#0072BD"/>
<path d="M89.6 44.5V51.5M91.8 40.5V53.5M93.2 42.0V56.5M94.5 35.0V59.5M96.0 37.5V58.5M97.3 34.0V63.2M98.4 32.3V62.0M99.8 36.0V62.0M101.2 33.0V65.0M102.7 28.6V64.5M103.8 33.0V63.0" stroke="#0072BD" stroke-width="0.9" fill="none" opacity="0.9"/>
<rect x="88.2" y="11.8" width="155.4" height="71.7" fill="none" stroke="#555" stroke-width="0.7"/>
<path d="M119.3 83.5v-1.8M119.3 11.8v1.8M150.4 83.5v-1.8M150.4 11.8v1.8M181.4 83.5v-1.8M181.4 11.8v1.8M212.5 83.5v-1.8M212.5 11.8v1.8M88.2 65.6h1.8M243.6 65.6h-1.8M88.2 47.6h1.8M243.6 47.6h-1.8M88.2 29.7h1.8M243.6 29.7h-1.8" stroke="#555" stroke-width="0.6" fill="none"/>
<rect x="321.8" y="11.3" width="155.9" height="71.2" fill="#fff"/>
<polygon points="322.2,17.0 322.8,17.0 322.8,17.4 323.4,17.4 323.4,17.7 324.1,17.7 324.1,17.0 324.7,17.0 324.7,16.9 325.3,16.9 325.3,19.3 325.9,19.3 325.9,18.7 326.5,18.7 326.5,16.9 327.2,16.9 327.2,17.4 327.8,17.4 327.8,17.1 328.4,17.1 328.4,19.4 329.0,19.4 329.0,17.4 329.6,17.4 329.6,17.7 330.3,17.7 330.3,17.6 330.9,17.6 330.9,17.5 331.5,17.5 331.5,16.9 332.1,16.9 332.1,16.7 332.7,16.7 332.7,20.3 333.4,20.3 333.4,22.0 334.0,22.0 334.0,17.3 334.6,17.3 334.6,17.7 335.2,17.7 335.2,22.2 335.8,22.2 335.8,17.0 336.5,17.0 336.5,17.6 337.1,17.6 337.1,18.0 337.7,18.0 337.7,17.7 338.3,17.7 338.3,17.5 338.9,17.5 338.9,23.8 339.6,23.8 339.6,25.8 340.2,25.8 340.2,19.6 340.8,19.6 340.8,17.6 341.4,17.6 341.4,17.1 342.0,17.1 342.0,17.1 342.7,17.1 342.7,19.3 343.3,19.3 343.3,17.1 343.9,17.1 343.9,17.3 344.5,17.3 344.5,17.7 345.1,17.7 345.1,16.9 345.8,16.9 345.8,17.2 346.4,17.2 346.4,17.4 347.0,17.4 347.0,17.6 347.6,17.6 347.6,18.3 348.2,18.3 348.2,18.1 348.9,18.1 348.9,19.1 349.5,19.1 349.5,18.1 350.1,18.1 350.1,18.3 350.7,18.3 350.7,19.8 351.3,19.8 351.3,18.1 352.0,18.1 352.0,23.0 352.6,23.0 352.6,18.5 353.2,18.5 353.2,17.9 353.8,17.9 353.8,17.6 354.4,17.6 354.4,19.3 355.1,19.3 355.1,25.4 355.7,25.4 355.7,17.4 356.3,17.4 356.3,24.2 356.9,24.2 356.9,17.4 357.5,17.4 357.5,18.1 358.2,18.1 358.2,18.1 358.8,18.1 358.8,17.4 359.4,17.4 359.4,17.4 360.0,17.4 360.0,17.7 360.6,17.7 360.6,18.6 361.3,18.6 361.3,17.8 361.9,17.8 361.9,17.6 362.5,17.6 362.5,17.2 363.1,17.2 363.1,17.7 363.7,17.7 363.7,20.1 364.4,20.1 364.4,19.8 365.0,19.8 365.0,17.4 365.6,17.4 365.6,17.6 366.2,17.6 366.2,17.1 366.8,17.1 366.8,18.9 367.5,18.9 367.5,19.4 368.1,19.4 368.1,18.6 368.7,18.6 368.7,17.3 369.3,17.3 369.3,17.1 369.9,17.1 369.9,16.5 370.6,16.5 370.6,16.6 371.2,16.6 371.2,16.6 371.8,16.6 371.8,16.5 372.4,16.5 372.4,19.5 373.0,19.5 373.0,16.4 373.7,16.4 373.7,17.3 374.3,17.3 374.3,21.3 374.9,21.3 374.9,17.0 375.5,17.0 375.5,17.3 376.1,17.3 376.1,16.9 376.8,16.9 376.8,17.2 377.4,17.2 377.4,17.9 378.0,17.9 378.0,17.6 378.6,17.6 378.6,17.3 379.2,17.3 379.2,17.8 379.9,17.8 379.9,17.2 380.5,17.2 380.5,24.1 381.1,24.1 381.1,16.8 381.7,16.8 381.7,16.9 382.3,16.9 382.3,18.3 383.0,18.3 383.0,16.6 383.6,16.6 383.6,20.2 384.2,20.2 384.2,17.1 384.8,17.1 384.8,17.0 385.4,17.0 385.4,17.0 386.1,17.0 386.1,25.7 386.7,25.7 386.7,17.0 387.3,17.0 387.3,17.3 387.9,17.3 387.9,23.1 388.5,23.1 388.5,17.6 389.2,17.6 389.2,17.7 389.8,17.7 389.8,18.0 390.4,18.0 390.4,18.0 391.0,18.0 391.0,17.4 391.6,17.4 391.6,18.1 392.3,18.1 392.3,18.0 392.9,18.0 392.9,17.1 393.5,17.1 393.5,17.1 394.1,17.1 394.1,22.0 394.7,22.0 394.7,19.1 395.4,19.1 395.4,17.1 396.0,17.1 396.0,21.6 396.6,21.6 396.6,17.7 397.2,17.7 397.2,18.3 397.8,18.3 397.8,18.4 398.5,18.4 398.5,17.2 399.1,17.2 399.1,20.0 399.7,20.0 399.7,18.1 400.3,18.1 400.3,27.6 400.9,27.6 400.9,18.0 401.6,18.0 401.6,18.0 402.2,18.0 402.2,18.2 402.8,18.2 402.8,17.6 403.4,17.6 403.4,18.1 404.0,18.1 404.0,17.1 404.7,17.1 404.7,17.5 405.3,17.5 405.3,22.7 405.9,22.7 405.9,17.4 406.5,17.4 406.5,17.4 407.1,17.4 407.1,16.8 407.8,16.8 407.8,17.5 408.4,17.5 408.4,19.0 409.0,19.0 409.0,17.7 409.6,17.7 409.6,18.1 410.2,18.1 410.2,20.7 410.9,20.7 410.9,17.2 411.5,17.2 411.5,18.1 412.1,18.1 412.1,17.7 412.7,17.7 412.7,21.0 413.3,21.0 413.3,16.8 414.0,16.8 414.0,17.0 414.6,17.0 414.6,22.1 415.2,22.1 415.2,17.6 415.8,17.6 415.8,20.2 416.4,20.2 416.4,17.8 417.1,17.8 417.1,17.7 417.7,17.7 417.7,18.1 418.3,18.1 418.3,17.5 418.9,17.5 418.9,20.3 419.5,20.3 419.5,17.1 420.2,17.1 420.2,17.3 420.8,17.3 420.8,17.5 421.4,17.5 421.4,16.9 422.0,16.9 422.0,20.3 422.6,20.3 422.6,17.3 423.3,17.3 423.3,17.2 423.9,17.2 423.9,16.9 424.5,16.9 424.5,17.3 425.1,17.3 425.1,17.7 425.7,17.7 425.7,17.1 426.4,17.1 426.4,18.9 427.0,18.9 427.0,17.0 427.6,17.0 427.6,17.0 428.2,17.0 428.2,17.3 428.8,17.3 428.8,17.9 429.5,17.9 429.5,19.2 430.1,19.2 430.1,19.3 430.7,19.3 430.7,18.0 431.3,18.0 431.3,17.2 431.9,17.2 431.9,17.4 432.6,17.4 432.6,17.8 433.2,17.8 433.2,21.1 433.8,21.1 433.8,18.2 434.4,18.2 434.4,18.2 435.0,18.2 435.0,19.3 435.7,19.3 435.7,18.2 436.3,18.2 436.3,17.7 436.9,17.7 436.9,18.2 437.5,18.2 437.5,17.3 438.1,17.3 438.1,17.7 438.8,17.7 438.8,17.7 439.4,17.7 439.4,20.7 440.0,20.7 440.0,17.5 440.6,17.5 440.6,17.7 441.2,17.7 441.2,17.2 441.9,17.2 441.9,17.0 442.5,17.0 442.5,17.5 443.1,17.5 443.1,17.5 443.7,17.5 443.7,17.1 444.3,17.1 444.3,18.0 445.0,18.0 445.0,19.4 445.6,19.4 445.6,21.8 446.2,21.8 446.2,19.2 446.8,19.2 446.8,17.7 447.4,17.7 447.4,24.0 448.1,24.0 448.1,21.2 448.7,21.2 448.7,17.6 449.3,17.6 449.3,19.3 449.9,19.3 449.9,18.0 450.5,18.0 450.5,22.5 451.2,22.5 451.2,19.3 451.8,19.3 451.8,17.2 452.4,17.2 452.4,18.1 453.0,18.1 453.0,18.1 453.6,18.1 453.6,18.1 454.3,18.1 454.3,18.3 454.9,18.3 454.9,17.6 455.5,17.6 455.5,18.1 456.1,18.1 456.1,20.1 456.7,20.1 456.7,19.6 457.4,19.6 457.4,17.6 458.0,17.6 458.0,19.3 458.6,19.3 458.6,17.5 459.2,17.5 459.2,18.2 459.8,18.2 459.8,22.9 460.5,22.9 460.5,18.0 461.1,18.0 461.1,19.6 461.7,19.6 461.7,24.0 462.3,24.0 462.3,18.1 462.9,18.1 462.9,17.6 463.6,17.6 463.6,17.6 464.2,17.6 464.2,17.3 464.8,17.3 464.8,17.3 465.4,17.3 465.4,21.1 466.0,21.1 466.0,17.7 466.7,17.7 466.7,18.2 467.3,18.2 467.3,17.6 467.9,17.6 467.9,17.8 468.5,17.8 468.5,24.3 469.1,24.3 469.1,17.6 469.8,17.6 469.8,24.1 470.4,24.1 470.4,18.3 471.0,18.3 471.0,18.3 471.6,18.3 471.6,18.7 472.2,18.7 472.2,18.6 472.9,18.6 472.9,21.0 473.5,21.0 473.5,18.6 474.1,18.6 474.1,21.1 474.7,21.1 474.7,19.2 475.3,19.2 475.3,18.3 476.0,18.3 476.0,20.8 476.6,20.8 476.6,20.6 477.2,20.6 477.2,69.1 476.6,69.1 476.6,75.8 476.0,75.8 476.0,69.0 475.3,69.0 475.3,71.9 474.7,71.9 474.7,75.1 474.1,75.1 474.1,75.1 473.5,75.1 473.5,61.6 472.9,61.6 472.9,68.4 472.2,68.4 472.2,70.8 471.6,70.8 471.6,64.5 471.0,64.5 471.0,70.5 470.4,70.5 470.4,75.6 469.8,75.6 469.8,68.8 469.1,68.8 469.1,68.7 468.5,68.7 468.5,74.6 467.9,74.6 467.9,66.6 467.3,66.6 467.3,69.6 466.7,69.6 466.7,71.7 466.0,71.7 466.0,67.9 465.4,67.9 465.4,55.6 464.8,55.6 464.8,67.2 464.2,67.2 464.2,66.3 463.6,66.3 463.6,71.9 462.9,71.9 462.9,67.3 462.3,67.3 462.3,63.8 461.7,63.8 461.7,74.5 461.1,74.5 461.1,68.1 460.5,68.1 460.5,63.8 459.8,63.8 459.8,68.4 459.2,68.4 459.2,68.2 458.6,68.2 458.6,69.5 458.0,69.5 458.0,68.9 457.4,68.9 457.4,71.3 456.7,71.3 456.7,71.4 456.1,71.4 456.1,69.7 455.5,69.7 455.5,73.2 454.9,73.2 454.9,69.4 454.3,69.4 454.3,72.6 453.6,72.6 453.6,69.0 453.0,69.0 453.0,75.3 452.4,75.3 452.4,70.7 451.8,70.7 451.8,70.8 451.2,70.8 451.2,74.6 450.5,74.6 450.5,75.6 449.9,75.6 449.9,62.4 449.3,62.4 449.3,70.1 448.7,70.1 448.7,73.4 448.1,73.4 448.1,72.6 447.4,72.6 447.4,70.2 446.8,70.2 446.8,72.9 446.2,72.9 446.2,68.5 445.6,68.5 445.6,69.0 445.0,69.0 445.0,71.3 444.3,71.3 444.3,68.7 443.7,68.7 443.7,66.6 443.1,66.6 443.1,76.6 442.5,76.6 442.5,70.8 441.9,70.8 441.9,64.5 441.2,64.5 441.2,63.5 440.6,63.5 440.6,69.7 440.0,69.7 440.0,72.6 439.4,72.6 439.4,72.3 438.8,72.3 438.8,70.6 438.1,70.6 438.1,69.1 437.5,69.1 437.5,70.4 436.9,70.4 436.9,69.3 436.3,69.3 436.3,68.7 435.7,68.7 435.7,68.6 435.0,68.6 435.0,68.5 434.4,68.5 434.4,66.0 433.8,66.0 433.8,73.6 433.2,73.6 433.2,73.2 432.6,73.2 432.6,75.9 431.9,75.9 431.9,69.4 431.3,69.4 431.3,67.5 430.7,67.5 430.7,69.5 430.1,69.5 430.1,69.3 429.5,69.3 429.5,70.2 428.8,70.2 428.8,70.2 428.2,70.2 428.2,75.3 427.6,75.3 427.6,69.3 427.0,69.3 427.0,68.8 426.4,68.8 426.4,67.3 425.7,67.3 425.7,67.3 425.1,67.3 425.1,66.9 424.5,66.9 424.5,67.4 423.9,67.4 423.9,74.3 423.3,74.3 423.3,72.6 422.6,72.6 422.6,68.4 422.0,68.4 422.0,73.0 421.4,73.0 421.4,70.1 420.8,70.1 420.8,70.4 420.2,70.4 420.2,73.8 419.5,73.8 419.5,76.3 418.9,76.3 418.9,73.7 418.3,73.7 418.3,58.3 417.7,58.3 417.7,69.2 417.1,69.2 417.1,56.8 416.4,56.8 416.4,68.0 415.8,68.0 415.8,73.9 415.2,73.9 415.2,68.0 414.6,68.0 414.6,59.2 414.0,59.2 414.0,68.7 413.3,68.7 413.3,74.3 412.7,74.3 412.7,61.0 412.1,61.0 412.1,68.9 411.5,68.9 411.5,68.0 410.9,68.0 410.9,64.8 410.2,64.8 410.2,75.3 409.6,75.3 409.6,76.5 409.0,76.5 409.0,69.9 408.4,69.9 408.4,70.5 407.8,70.5 407.8,69.7 407.1,69.7 407.1,75.2 406.5,75.2 406.5,72.5 405.9,72.5 405.9,72.6 405.3,72.6 405.3,72.5 404.7,72.5 404.7,77.2 404.0,77.2 404.0,71.6 403.4,71.6 403.4,77.2 402.8,77.2 402.8,76.3 402.2,76.3 402.2,73.8 401.6,73.8 401.6,58.1 400.9,58.1 400.9,68.7 400.3,68.7 400.3,69.3 399.7,69.3 399.7,66.3 399.1,66.3 399.1,68.4 398.5,68.4 398.5,73.2 397.8,73.2 397.8,72.9 397.2,72.9 397.2,57.9 396.6,57.9 396.6,71.1 396.0,71.1 396.0,70.5 395.4,70.5 395.4,69.8 394.7,69.8 394.7,73.8 394.1,73.8 394.1,69.8 393.5,69.8 393.5,68.6 392.9,68.6 392.9,72.0 392.3,72.0 392.3,69.1 391.6,69.1 391.6,64.1 391.0,64.1 391.0,68.6 390.4,68.6 390.4,69.9 389.8,69.9 389.8,69.8 389.2,69.8 389.2,71.0 388.5,71.0 388.5,69.7 387.9,69.7 387.9,70.3 387.3,70.3 387.3,72.6 386.7,72.6 386.7,69.3 386.1,69.3 386.1,73.1 385.4,73.1 385.4,69.8 384.8,69.8 384.8,75.2 384.2,75.2 384.2,69.6 383.6,69.6 383.6,63.0 383.0,63.0 383.0,72.0 382.3,72.0 382.3,70.3 381.7,70.3 381.7,69.8 381.1,69.8 381.1,77.1 380.5,77.1 380.5,72.2 379.9,72.2 379.9,72.7 379.2,72.7 379.2,71.8 378.6,71.8 378.6,76.1 378.0,76.1 378.0,66.2 377.4,66.2 377.4,75.9 376.8,75.9 376.8,67.5 376.1,67.5 376.1,69.1 375.5,69.1 375.5,70.2 374.9,70.2 374.9,72.1 374.3,72.1 374.3,68.8 373.7,68.8 373.7,71.5 373.0,71.5 373.0,68.5 372.4,68.5 372.4,68.9 371.8,68.9 371.8,73.6 371.2,73.6 371.2,66.9 370.6,66.9 370.6,66.8 369.9,66.8 369.9,73.3 369.3,73.3 369.3,70.9 368.7,70.9 368.7,71.2 368.1,71.2 368.1,75.4 367.5,75.4 367.5,69.5 366.8,69.5 366.8,70.8 366.2,70.8 366.2,71.3 365.6,71.3 365.6,71.0 365.0,71.0 365.0,72.0 364.4,72.0 364.4,70.8 363.7,70.8 363.7,71.8 363.1,71.8 363.1,60.8 362.5,60.8 362.5,70.5 361.9,70.5 361.9,73.1 361.3,73.1 361.3,69.3 360.6,69.3 360.6,68.2 360.0,68.2 360.0,66.3 359.4,66.3 359.4,68.5 358.8,68.5 358.8,65.1 358.2,65.1 358.2,68.9 357.5,68.9 357.5,68.7 356.9,68.7 356.9,73.6 356.3,73.6 356.3,59.7 355.7,59.7 355.7,70.9 355.1,70.9 355.1,68.0 354.4,68.0 354.4,69.0 353.8,69.0 353.8,71.0 353.2,71.0 353.2,69.6 352.6,69.6 352.6,70.9 352.0,70.9 352.0,71.0 351.3,71.0 351.3,73.6 350.7,73.6 350.7,73.1 350.1,73.1 350.1,69.2 349.5,69.2 349.5,69.0 348.9,69.0 348.9,72.9 348.2,72.9 348.2,74.3 347.6,74.3 347.6,70.6 347.0,70.6 347.0,76.1 346.4,76.1 346.4,74.2 345.8,74.2 345.8,69.5 345.1,69.5 345.1,75.6 344.5,75.6 344.5,69.9 343.9,69.9 343.9,67.8 343.3,67.8 343.3,74.4 342.7,74.4 342.7,75.3 342.0,75.3 342.0,69.0 341.4,69.0 341.4,67.6 340.8,67.6 340.8,68.3 340.2,68.3 340.2,69.0 339.6,69.0 339.6,73.9 338.9,73.9 338.9,71.8 338.3,71.8 338.3,69.0 337.7,69.0 337.7,74.0 337.1,74.0 337.1,69.4 336.5,69.4 336.5,68.6 335.8,68.6 335.8,75.6 335.2,75.6 335.2,69.5 334.6,69.5 334.6,62.3 334.0,62.3 334.0,68.2 333.4,68.2 333.4,75.2 332.7,75.2 332.7,60.7 332.1,60.7 332.1,71.0 331.5,71.0 331.5,73.1 330.9,73.1 330.9,76.0 330.3,76.0 330.3,72.9 329.6,72.9 329.6,68.8 329.0,68.8 329.0,65.3 328.4,65.3 328.4,69.4 327.8,69.4 327.8,68.2 327.2,68.2 327.2,71.6 326.5,71.6 326.5,71.5 325.9,71.5 325.9,68.2 325.3,68.2 325.3,65.9 324.7,65.9 324.7,73.4 324.1,73.4 324.1,64.5 323.4,64.5 323.4,71.1 322.8,71.1 322.8,68.2 322.2,68.2" fill="#0072BD"/>
<rect x="321.8" y="11.3" width="155.9" height="71.2" fill="none" stroke="#555" stroke-width="0.7"/>
<path d="M353.0 82.5v-1.8M353.0 11.3v1.8M384.2 82.5v-1.8M384.2 11.3v1.8M415.3 82.5v-1.8M415.3 11.3v1.8M446.5 82.5v-1.8M446.5 11.3v1.8M321.8 58.8h1.8M477.7 58.8h-1.8M321.8 35.0h1.8M477.7 35.0h-1.8" stroke="#555" stroke-width="0.6" fill="none"/>
<rect x="439.6" y="101" width="4.8" height="11.6" fill="#fff"/>
<g stroke="#f00" stroke-width="1.35" fill="none">
<path d="M62.3 108.8V242.8" stroke-dasharray="4.8 3.4" stroke-dashoffset="2.9"/>
<path d="M65.5 108.8V242.8" stroke-dasharray="4.8 3.4" stroke-dashoffset="7.7"/>
<path d="M61.7 108.9H66M62.3 242.5H65.5" stroke-width="1.2"/>
<path d="M65.8 109.6L82 96.5" stroke-width="1.5"/>
<path d="M440.2 109.3V222M443.8 109.3V222" stroke-width="1.35" stroke-dasharray="4.5 3.3"/>
<path d="M439.6 102.9H444.4M440.2 102.3V105.6M443.8 102.3V105.6M442 102.5V100"/>
</g>
<polygon points="85.5,93.7 82.6,99.1 79.6,95.4" fill="#f00"/>
<polygon points="442,95.6 444.4,100.6 439.6,100.6" fill="#f00"/>
<g font-family="'Liberation Serif', 'Times New Roman', serif" font-weight="bold" fill="#000">
<g font-size="11.5" text-anchor="end">
<text x="58.6" y="247.9">-400</text>
<text x="58.6" y="214.1">-200</text>
<text x="58.6" y="180.4">0</text>
<text x="58.6" y="146.6">200</text>
<text x="58.6" y="112.8">400</text>
<text x="58.6" y="79.0">600</text>
<text x="58.6" y="45.3">800</text>
<text x="58.6" y="11.5">1000</text>
</g>
<g font-size="11.5" text-anchor="middle">
<text x="62.7" y="257.6">0</text>
<text x="110.0" y="257.6">100</text>
<text x="157.4" y="257.6">200</text>
<text x="204.7" y="257.6">300</text>
<text x="252.0" y="257.6">400</text>
<text x="299.4" y="257.6">500</text>
<text x="346.7" y="257.6">600</text>
<text x="394.0" y="257.6">700</text>
<text x="441.3" y="257.6">800</text>
<text x="488.7" y="257.6">900</text>
<text x="536.0" y="257.6">1000</text>
</g>
<text x="299" y="272.2" font-size="12.5" text-anchor="middle">Time (s)</text>
<text transform="translate(15.4,125.4) rotate(-90)" font-size="12.4" textLength="92" lengthAdjust="spacing" text-anchor="middle">IM Torque (Nm)</text>
<g font-size="7.5" text-anchor="end">
<text x="84.3" y="86.7">-400</text>
<text x="84.3" y="68.8">-200</text>
<text x="84.3" y="50.9">0</text>
<text x="84.3" y="32.9">200</text>
<text x="84.3" y="15.0">400</text>
<text x="318.3" y="85.9">-200</text>
<text x="318.3" y="62.2">0</text>
<text x="318.3" y="38.4">200</text>
<text x="318.3" y="14.7">400</text>
</g>
<g font-size="7.5" text-anchor="middle">
<text x="88.2" y="94.7">0</text>
<text x="119.3" y="94.7">0.2</text>
<text x="150.4" y="94.7">0.4</text>
<text x="181.4" y="94.7">0.6</text>
<text x="212.5" y="94.7">0.8</text>
<text x="243.6" y="94.7">1</text>
<text x="321.8" y="93.7">800</text>
<text x="353.0" y="93.7">800.2</text>
<text x="384.2" y="93.7">800.4</text>
<text x="415.3" y="93.7">800.6</text>
<text x="446.5" y="93.7">800.8</text>
<text x="477.7" y="93.7">801</text>
</g>
</g>
</svg>
</body></html>
